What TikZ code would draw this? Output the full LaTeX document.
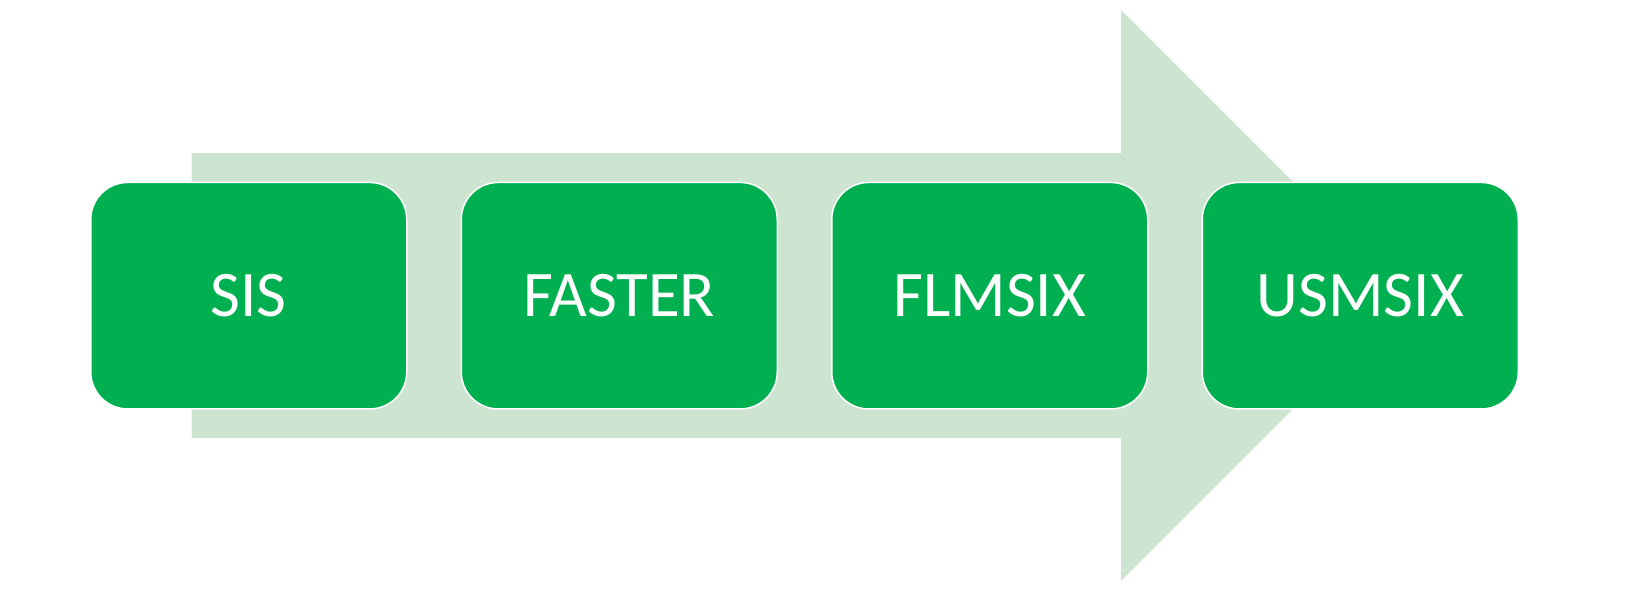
\documentclass[tikz,border=0pt]{standalone}
\usepackage{fontspec}
\setmainfont{Carlito}
\definecolor{boxgreen}{RGB}{0,176,80}
\definecolor{arrowgreen}{RGB}{205,228,208}
\begin{document}
\begin{tikzpicture}[x=1pt,y=-1pt,
  stagebox/.style={draw=white, line width=1.5pt, fill=boxgreen, rounded corners=37pt,
    minimum width=316pt, minimum height=226.5pt, inner sep=0pt, text=white,
    font=\fontsize{65}{78}\selectfont, anchor=north west}]
\useasboundingbox (0,0) rectangle (1627,597);
\fill[arrowgreen] (191.5,153) -- (1121,153) -- (1121,10) -- (1406.5,295.5)
  -- (1121,581) -- (1121,438) -- (191.5,438) -- cycle;
\node[stagebox] (sis) at (90,181.7) {SIS};
\node[stagebox] (faster) at (460.5,181.7) {FASTER};
\node[stagebox] (flmsix) at (831,181.7) {FLMSIX};
\node[stagebox] (usmsix) at (1201.5,181.7) {USMSIX};
\end{tikzpicture}
\end{document}
